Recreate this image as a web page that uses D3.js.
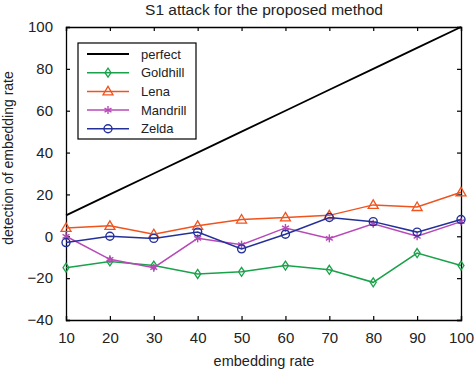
<!DOCTYPE html>
<html><head><meta charset="utf-8">
<script src="https://cdn.jsdelivr.net/npm/d3@7"></script>
<style>body{margin:0;background:#fff}svg{display:block}text{font-family:"Liberation Sans",Arial,sans-serif;fill:#222}</style>
</head><body><svg id="c" width="474" height="371"></svg>
<script>
const rates = [10,20,30,40,50,60,70,80,90,100];
const perfect = [10,20,30,40,50,60,70,80,90,100];
const goldhill = [-15,-12,-14,-18,-17,-14,-16,-22,-8,-14];
const lena = [4,5,1,5,8,9,10,15,14,21];
const mandrill = [0,-11,-15,-1,-4,4,-1,6,0,7];
const zelda = [-3,0,-1,2,-6,1,9,7,2,8];
const yTicks = [-40,-20,0,20,40,60,80,100];
const seriesNames = ["perfect","Goldhill","Lena","Mandrill","Zelda"];

const svg = d3.select("#c");
const L=66,R=461,T=27,B=320;
const x = d3.scaleLinear().domain([10,100]).range([L,R]);
const y = d3.scaleLinear().domain([-40,100]).range([B,T]);

const series = [
  {name:seriesNames[0], vals:perfect, color:"#000", marker:null},
  {name:seriesNames[1], vals:goldhill, color:"#1aa24a", marker:"diamond"},
  {name:seriesNames[2], vals:lena, color:"#f0531e", marker:"triangle"},
  {name:seriesNames[3], vals:mandrill, color:"#b848b8", marker:"star"},
  {name:seriesNames[4], vals:zelda, color:"#24309a", marker:"circle"}
];

const tl=4;
svg.append("g").attr("transform",`translate(0,${B})`).call(d3.axisBottom(x).tickValues(rates).tickSize(-tl).tickPadding(12).tickFormat(d3.format("d")));
svg.append("g").attr("transform",`translate(0,${T})`).call(d3.axisTop(x).tickValues(rates).tickSize(-tl).tickFormat(""));
svg.append("g").attr("transform",`translate(${L},0)`).call(d3.axisLeft(y).tickValues(yTicks).tickSize(-tl).tickPadding(13).tickFormat(d3.format("d")));
svg.append("g").attr("transform",`translate(${R},0)`).call(d3.axisRight(y).tickValues(yTicks).tickSize(-tl).tickFormat(""));
svg.selectAll(".domain").attr("stroke","#000").attr("stroke-width",1.3);
svg.selectAll(".tick line").attr("stroke","#000").attr("stroke-width",1.2);
svg.selectAll(".tick text").style("font-size","15px").attr("fill","#222").style("font-family","'Liberation Sans',Arial,sans-serif");

function drawMarker(g, type, cx, cy, color){
  if(type==="diamond"){
    g.append("path").attr("d",`M${cx},${cy-4.5}L${cx+3},${cy}L${cx},${cy+4.5}L${cx-3},${cy}Z`).attr("fill","none").attr("stroke",color).attr("stroke-width",1.3);
  } else if(type==="triangle"){
    g.append("path").attr("d",`M${cx},${cy-5}L${cx+5},${cy+3.5}L${cx-5},${cy+3.5}Z`).attr("fill","none").attr("stroke",color).attr("stroke-width",1.3);
  } else if(type==="circle"){
    g.append("circle").attr("cx",cx).attr("cy",cy).attr("r",4).attr("fill","none").attr("stroke",color).attr("stroke-width",1.4);
  } else if(type==="star"){
    for(let a=0;a<3;a++){
      const ang=a*Math.PI/3+Math.PI/2;
      g.append("line").attr("x1",cx-4*Math.cos(ang)).attr("y1",cy-4*Math.sin(ang)).attr("x2",cx+4*Math.cos(ang)).attr("y2",cy+4*Math.sin(ang)).attr("stroke",color).attr("stroke-width",1.4);
    }
  }
}

const line = d3.line().x((d,i)=>x(rates[i])).y(d=>y(d));
series.forEach(s=>{
  const g=svg.append("g");
  g.append("path").datum(s.vals).attr("d",line).attr("fill","none").attr("stroke",s.color).attr("stroke-width",s.marker?1.5:1.8);
  if(s.marker) s.vals.forEach((v,i)=>drawMarker(g,s.marker,x(rates[i]),y(v),s.color));
});

const lg=svg.append("g");
lg.append("rect").attr("x",78).attr("y",43).attr("width",118).attr("height",96).attr("fill","#fff").attr("stroke","#000").attr("stroke-width",1.2);
series.forEach((s,i)=>{
  const ly=54+i*18.7;
  lg.append("line").attr("x1",87).attr("x2",129).attr("y1",ly).attr("y2",ly).attr("stroke",s.color).attr("stroke-width",s.marker?1.5:1.8);
  if(s.marker) drawMarker(lg,s.marker,108,ly,s.color);
  lg.append("text").attr("x",141).attr("y",ly+4.5).style("font-size","13px").text(s.name);
});

svg.append("text").attr("x",264).attr("y",15).attr("text-anchor","middle").style("font-size","15.5px").text("S1 attack for the proposed method");
svg.append("text").attr("x",264).attr("y",366).attr("text-anchor","middle").style("font-size","14.5px").text("embedding rate");
svg.append("text").attr("transform","translate(13,158) rotate(-90)").attr("text-anchor","middle").style("font-size","14px").text("detection of embedding rate");
</script></body></html>
